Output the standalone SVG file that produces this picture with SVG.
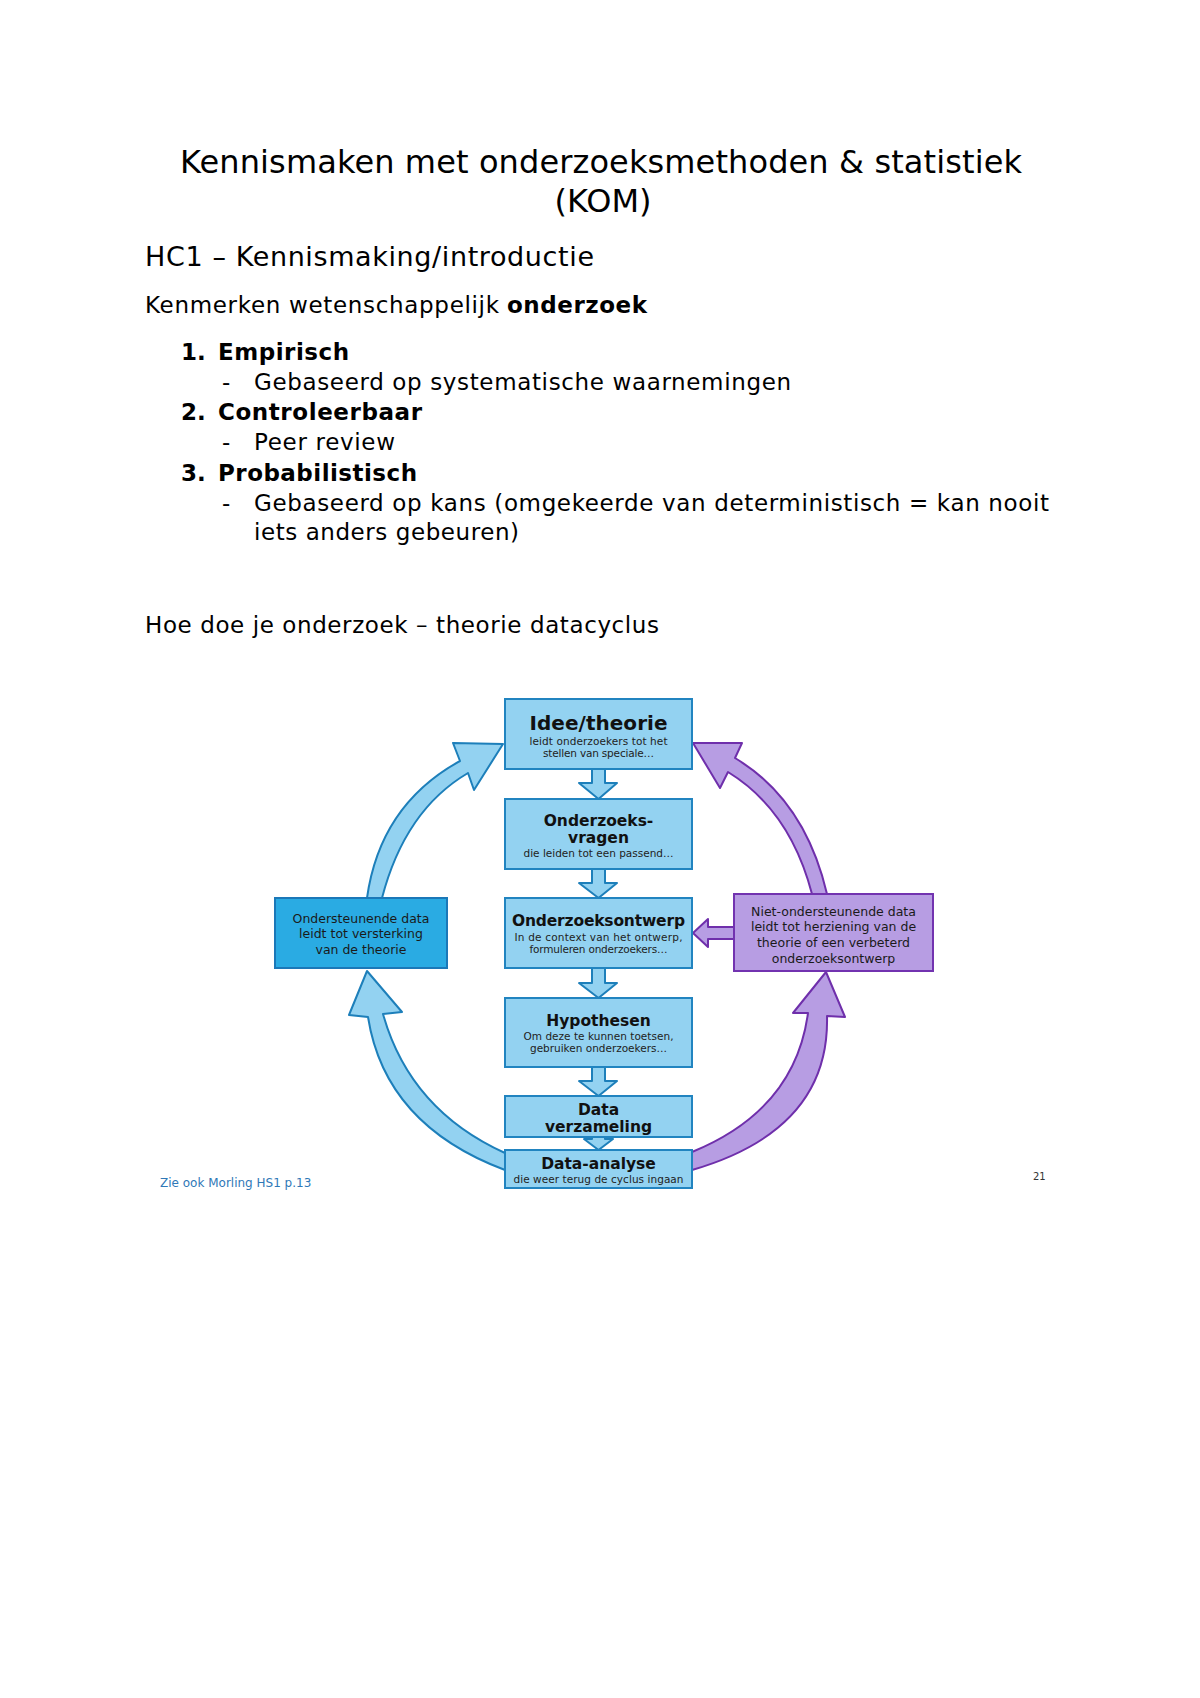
<svg xmlns="http://www.w3.org/2000/svg" width="1200" height="1698" viewBox="0 0 1200 1698">
<style>
text{font-family:"DejaVu Sans","Liberation Sans",sans-serif;fill:#000}
.t1{font-size:32px}
.t2{font-size:27px}
.b{font-size:23px}
.bb{font-size:23px;font-weight:bold}
.bx{fill:#93d2f1;stroke:#2184c0;stroke-width:2}
.bl{fill:#2aabe3;stroke:#1b78b8;stroke-width:2}
.pu{fill:#b79de3;stroke:#7233b0;stroke-width:2}
.arb{fill:#93d2f1;stroke:#1d7fba;stroke-width:2;stroke-linejoin:round}
.arp{fill:#b79de3;stroke:#6f2fab;stroke-width:2;stroke-linejoin:round}
.h{font-size:15.5px;font-weight:bold;text-anchor:middle;fill:#111}
.s{font-size:10.5px;text-anchor:middle;fill:#222}
.n{font-size:12.5px;text-anchor:middle;fill:#1a1a1a}
</style>

<g id="page-text">
<text class="t1" x="180" y="173" textLength="842">Kennismaken met onderzoeksmethoden &amp; statistiek</text>
<text class="t1" x="603" y="212" text-anchor="middle">(KOM)</text>
<text class="t2" x="145" y="266" textLength="449">HC1 – Kennismaking/introductie</text>
<text class="b" x="145" y="313" textLength="354">Kenmerken wetenschappelijk</text>
<text class="bb" x="507" y="313" textLength="140">onderzoek</text>
<text class="bb" x="181" y="360">1.</text>
<text class="bb" x="218" y="360" textLength="131">Empirisch</text>
<text class="b" x="222" y="390">-</text>
<text class="b" x="254" y="390" textLength="537">Gebaseerd op systematische waarnemingen</text>
<text class="bb" x="181" y="420">2.</text>
<text class="bb" x="218" y="420" textLength="204">Controleerbaar</text>
<text class="b" x="222" y="450">-</text>
<text class="b" x="254" y="450" textLength="141">Peer review</text>
<text class="bb" x="181" y="481">3.</text>
<text class="bb" x="218" y="481" textLength="199">Probabilistisch</text>
<text class="b" x="222" y="511">-</text>
<text class="b" x="254" y="511" textLength="795">Gebaseerd op kans (omgekeerde van deterministisch = kan nooit</text>
<text class="b" x="254" y="540" textLength="265">iets anders gebeuren)</text>
<text class="b" x="145" y="633" textLength="514">Hoe doe je onderzoek – theorie datacyclus</text>
</g>

<g id="connectors">
<path class="arb" d="M367,898 Q380,805 460,761 L453,743 L503,744 L474,790 L468,773 Q405,810 382,898 Z"/>
<path class="arb" d="M368,1017 Q385,1125 505,1170 L505,1153 Q410,1110 383,1014 L402,1012 L367,971 L349,1015 Z"/>
<path class="arp" d="M693,743 L742,743 L735,758 Q805,800 827,894 L812,894 Q790,810 728,772 L720,788 Z"/>
<path class="arp" d="M826,972 L845,1017 L827,1016 Q830,1130 692,1170 L692,1152 Q795,1110 808,1013 L793,1013 Z"/>
<path class="arb" d="M592,768 L605,768 L605,783 L617,783 L598.5,799 L579,783 L592,783 Z"/>
<path class="arb" d="M592,868 L605,868 L605,883 L617,883 L598.5,898 L579,883 L592,883 Z"/>
<path class="arb" d="M592,967 L605,967 L605,983 L617,983 L598.5,998 L579,983 L592,983 Z"/>
<path class="arb" d="M592,1066 L605,1066 L605,1081 L617,1081 L598.5,1096 L579,1081 L592,1081 Z"/>
<path class="arb" d="M592,1136 L605,1136 L605,1139 L613,1139 L598.5,1150 L584,1139 L592,1139 Z"/>
<path class="arp" d="M735,927 L708,927 L708,919 L693,933 L708,947 L708,939 L735,939 Z"/>
</g>

<g id="node-idee">
<rect class="bx" x="505" y="699" width="187" height="70"/>
<text class="h" x="598.5" y="730" style="font-size:20px" textLength="138">Idee/theorie</text>
<text class="s" x="598.5" y="745" textLength="138">leidt onderzoekers tot het</text>
<text class="s" x="598.5" y="757" textLength="111">stellen van speciale…</text>
</g>
<g id="node-vragen">
<rect class="bx" x="505" y="799" width="187" height="70"/>
<text class="h" x="598.5" y="826">Onderzoeks-</text>
<text class="h" x="598.5" y="843">vragen</text>
<text class="s" x="598.5" y="857" textLength="150">die leiden tot een passend…</text>
</g>
<g id="node-ontwerp">
<rect class="bx" x="505" y="898" width="187" height="70"/>
<text class="h" x="598.5" y="926" textLength="173">Onderzoeksontwerp</text>
<text class="s" x="598.5" y="941" textLength="168">In de context van het ontwerp,</text>
<text class="s" x="598.5" y="953" textLength="138">formuleren onderzoekers…</text>
</g>
<g id="node-hypothesen">
<rect class="bx" x="505" y="998" width="187" height="69"/>
<text class="h" x="598.5" y="1026">Hypothesen</text>
<text class="s" x="598.5" y="1040" textLength="150">Om deze te kunnen toetsen,</text>
<text class="s" x="598.5" y="1052" textLength="137">gebruiken onderzoekers…</text>
</g>
<g id="node-verzameling">
<rect class="bx" x="505" y="1096" width="187" height="41"/>
<text class="h" x="598.5" y="1115">Data</text>
<text class="h" x="598.5" y="1132">verzameling</text>
</g>
<g id="node-analyse">
<rect class="bx" x="505" y="1150" width="187" height="38"/>
<text class="h" x="598.5" y="1169">Data-analyse</text>
<text class="s" x="598.5" y="1183" textLength="170">die weer terug de cyclus ingaan</text>
</g>
<g id="node-ondersteunend">
<rect class="bl" x="275" y="898" width="172" height="70"/>
<text class="n" x="361" y="923">Ondersteunende data</text>
<text class="n" x="361" y="938">leidt tot versterking</text>
<text class="n" x="361" y="954">van de theorie</text>
</g>
<g id="node-niet-ondersteunend">
<rect class="pu" x="734" y="894" width="199" height="77"/>
<text class="n" x="833.5" y="915.5">Niet-ondersteunende data</text>
<text class="n" x="833.5" y="930.5">leidt tot herziening van de</text>
<text class="n" x="833.5" y="946.5">theorie of een verbeterd</text>
<text class="n" x="833.5" y="962.5">onderzoeksontwerp</text>
</g>

<g id="footer">
<text x="160" y="1187" style="font-size:12px;fill:#2f78b7">Zie ook Morling HS1 p.13</text>
<text x="1033" y="1180" style="font-size:10px;fill:#333">21</text>
</g>
</svg>
